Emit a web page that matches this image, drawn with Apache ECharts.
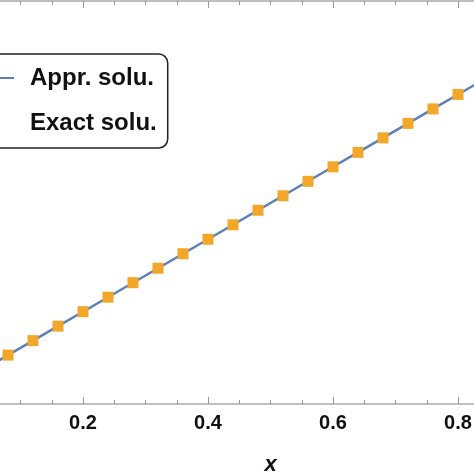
<!DOCTYPE html>
<html><head><meta charset="utf-8">
<script src="https://cdn.jsdelivr.net/npm/echarts@6/dist/echarts.min.js"></script>
<style>html,body{margin:0;padding:0;background:#fff;overflow:hidden;width:474px;height:474px;position:relative}
#c{position:absolute;left:-42px;top:0;width:625px;height:474px}</style>
</head><body><div id="c"></div>
<script>
const xValues = [0.0,0.04,0.08,0.12,0.16,0.20,0.24,0.28,0.32,0.36,0.40,0.44,0.48,0.52,0.56,0.60,0.64,0.68,0.72,0.76,0.80,0.84,0.88,0.92,0.96,1.0];
const apprValues = [0.0,0.04,0.08,0.12,0.16,0.20,0.24,0.28,0.32,0.36,0.40,0.44,0.48,0.52,0.56,0.60,0.64,0.68,0.72,0.76,0.80,0.84,0.88,0.92,0.96,1.0];
const exactValues = [0.0,0.04,0.08,0.12,0.16,0.20,0.24,0.28,0.32,0.36,0.40,0.44,0.48,0.52,0.56,0.60,0.64,0.68,0.72,0.76,0.80,0.84,0.88,0.92,0.96,1.0];
const seriesNames = ['Appr. solu.', 'Exact solu.'];
const xAxisName = 'x';

const chart = echarts.init(document.getElementById('c'));
const fontFam = 'Liberation Sans, Arial, sans-serif';
const lineColor = '#5B7FB8';
const markColor = '#F2A62A';
const axisCommon = {
  type: 'value', min: 0, max: 1, interval: 0.2,
  axisLine: {show: true, onZero: false, lineStyle: {color: '#aaaaaa', width: 1.5}},
  axisTick: {show: true, inside: true, length: 7, lineStyle: {color: '#999'}},
  minorTick: {show: true, splitNumber: 4, length: 4, lineStyle: {color: '#999'}},
  splitLine: {show: false}
};
chart.setOption({
  animation: false,
  grid: {left: 0, right: 0, top: 1, bottom: 70, containLabel: false, outerBoundsMode: 'none'},
  legend: {
    show: true,
    orient: 'vertical', left: -2, top: 54,
    padding: [12, 11, 13, 14],
    itemGap: 21, itemWidth: 44, itemHeight: 14,
    symbolKeepAspect: true,
    backgroundColor: '#fff',
    borderColor: '#222', borderWidth: 1.5, borderRadius: 9,
    textStyle: {fontFamily: fontFam, fontWeight: 'bold', fontSize: 24, color: '#111', lineHeight: 24, padding: [0,0,0,11]},
    data: [
      {name: seriesNames[0], icon: 'path://M0,0 H44 V2.2 H0 Z', itemStyle: {color: lineColor}},
      {name: seriesNames[1], icon: 'path://M0,0 H10 V10 H0 Z', itemStyle: {color: markColor}}
    ]
  },
  xAxis: [
    Object.assign({}, axisCommon, {
      position: 'bottom',
      name: xAxisName, nameLocation: 'middle', nameGap: 50,
      nameTextStyle: {fontFamily: fontFam, fontWeight: 'bold', fontStyle: 'italic', fontSize: 22, color: '#111'},
      axisLabel: {fontFamily: fontFam, fontWeight: 'bold', fontSize: 20, color: '#111', margin: 9,
        formatter: v => (v === 0 ? '0' : v.toFixed(1))}
    }),
    Object.assign({}, axisCommon, {position: 'top', axisLabel: {show: false}})
  ],
  yAxis: {type: 'value', min: -0.055, max: 1.058, show: false},
  series: [
    {name: seriesNames[0], type: 'line', data: xValues.map((x, i) => [x, apprValues[i]]),
     showSymbol: false, symbol: 'none', lineStyle: {color: lineColor, width: 2.4}, itemStyle: {color: lineColor}, z: 2},
    {name: seriesNames[1], type: 'scatter', data: xValues.map((x, i) => [x, exactValues[i]]),
     symbol: 'rect', symbolSize: 11, itemStyle: {color: markColor, opacity: 1}, z: 3}
  ]
});
</script></body></html>
